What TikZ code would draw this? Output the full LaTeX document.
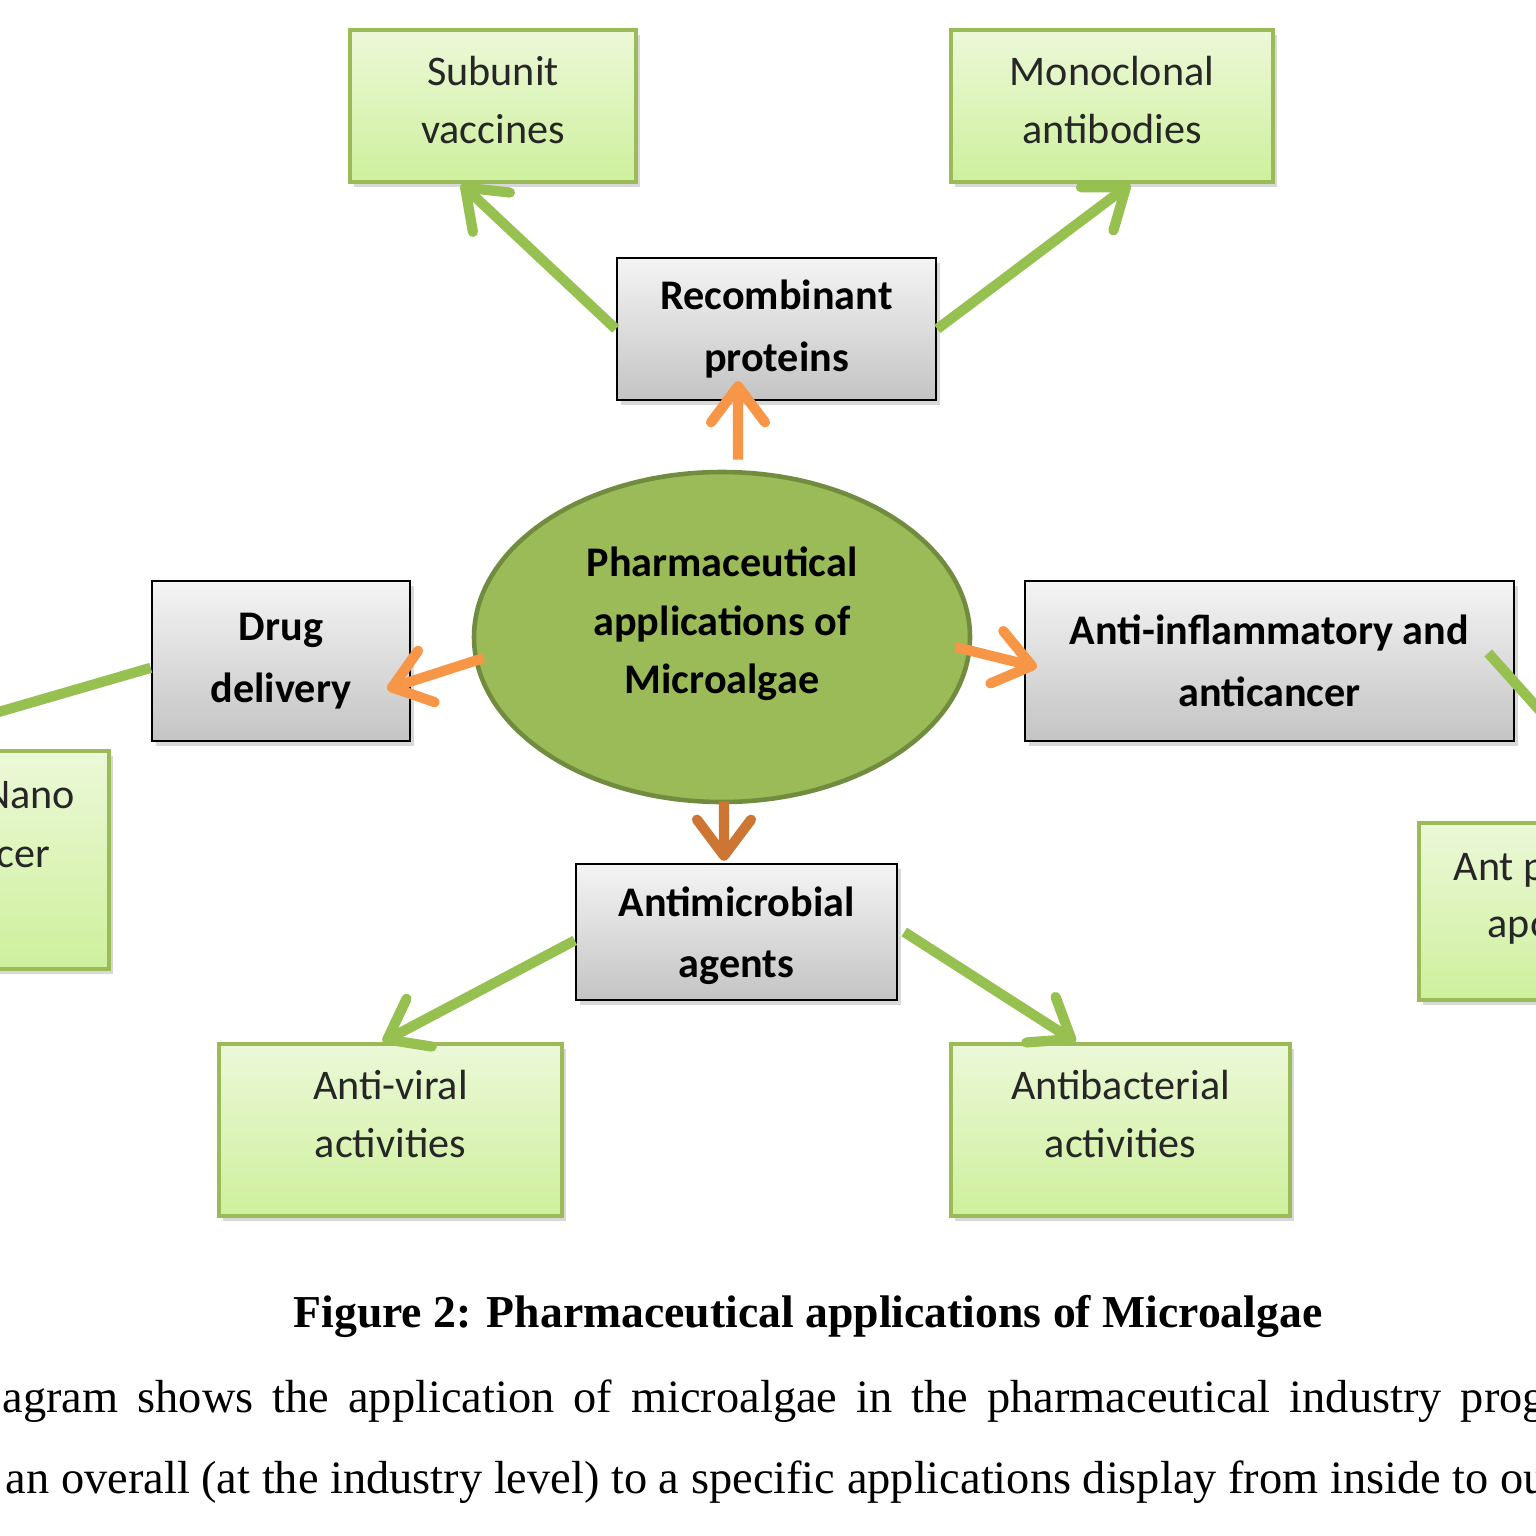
\documentclass[tikz,border=0pt]{standalone}
\usepackage{fontspec}
\setmainfont{Carlito}
\newfontfamily\capfont{Liberation Serif}
\usepackage{tikz}
\usetikzlibrary{arrows.meta,shapes.geometric,shadows,calc}

\definecolor{leafgreen}{RGB}{155,187,89}
\definecolor{leafdark}{RGB}{113,140,62}
\definecolor{arrowgreen}{RGB}{150,192,80}
\definecolor{boxtop}{RGB}{236,248,216}
\definecolor{boxbot}{RGB}{206,240,156}
\definecolor{greytop}{RGB}{244,244,244}
\definecolor{greybot}{RGB}{196,196,196}
\definecolor{arroworange}{RGB}{247,150,70}
\definecolor{arrowbrown}{RGB}{205,118,52}

\begin{document}
\begin{tikzpicture}[
  boxshadow/.style={drop shadow={shadow xshift=0.04cm, shadow yshift=-0.05cm, opacity=0.3}},
  greenbox/.style={rectangle, draw=leafgreen, line width=1.2pt, top color=boxtop, bottom color=boxbot,
    text=black!85, align=center, font=\fontsize{12}{16.5}\selectfont, boxshadow},
  greybox/.style={rectangle, draw=black, line width=0.7pt, top color=greytop, bottom color=greybot,
    align=center, font=\bfseries\fontsize{12}{17.5}\selectfont, boxshadow},
  cuttext/.style={text=black!85, font=\fontsize{12}{16.5}\selectfont, inner sep=0pt},
  gline/.style={draw=arrowgreen, line width=2.9pt, -{Straight Barb[round,length=3.6mm,width=5.4mm]}},
  oline/.style={draw=arroworange, line width=2.9pt, -{Straight Barb[round,length=3.6mm,width=5.4mm]}},
  bline/.style={draw=arrowbrown, line width=2.9pt, -{Straight Barb[round,length=3.6mm,width=5.4mm]}},
  bodytext/.style={font=\capfont\fontsize{13.2}{15}\selectfont, anchor=base west, inner sep=0pt},
]
  \useasboundingbox (0,0) rectangle (15.36,-15.36);
  \clip (0,0) rectangle (15.36,-15.36);
  \fill[white] (0,0) rectangle (15.36,-15.36);

  % centre
  \node[ellipse, draw=leafdark, line width=1.3pt, fill=leafgreen, minimum width=4.96cm, minimum height=3.30cm,
        align=center, text depth=0.33cm, font=\bfseries\fontsize{12}{16.6}\selectfont] (micro) at (7.22,-6.37)
        {Pharmaceutical\\applications of\\Microalgae};

  % first ring
  \node[greybox, minimum width=3.19cm, minimum height=1.42cm] (recomb) at (7.765,-3.29) {Recombinant\\proteins};
  \node[greybox, minimum width=2.58cm, minimum height=1.60cm] (drug) at (2.81,-6.61) {Drug\\delivery};
  \node[greybox, minimum width=4.89cm, minimum height=1.60cm] (antiinf) at (12.695,-6.61) {Anti-inflammatory and\\anticancer};
  \node[greybox, minimum width=3.21cm, minimum height=1.36cm, text depth=0pt] (antimic) at (7.365,-9.32) {Antimicrobial\\agents};

  % outer ring
  \node[greenbox, minimum width=2.86cm, minimum height=1.52cm, text depth=0.12cm] (subunit) at (4.93,-1.06) {Subunit\\vaccines};
  \node[greenbox, minimum width=3.22cm, minimum height=1.52cm, text depth=0.12cm] (mono) at (11.12,-1.06) {Monoclonal\\antibodies};
  \node[greenbox, minimum width=3.43cm, minimum height=1.72cm, text depth=0.32cm] (antivir) at (3.905,-11.30) {Anti-viral\\activities};
  \node[greenbox, minimum width=3.39cm, minimum height=1.72cm, text depth=0.32cm] (antibac) at (11.205,-11.30) {Antibacterial\\activities};
  \node[greenbox, minimum width=3.00cm, minimum height=2.18cm] (nanobox) at (-0.41,-8.60) {};
  \node[greenbox, minimum width=3.00cm, minimum height=1.77cm] (antpbox) at (15.69,-9.115) {};
  \node[cuttext, anchor=base] (nanotxt) at (0.29,-8.08) {Nano};
  \node[cuttext, anchor=base] (certxt) at (0.23,-8.67) {cer};
  \node[cuttext, anchor=base west] (anttxt) at (14.53,-8.80) {Ant p};
  \node[cuttext, anchor=base west] (apotxt) at (14.87,-9.37) {apo};

  \coordinate (nanoend) at (-0.60,-7.29);
  \coordinate (antpend) at (16.20,-8.00);

  % connectors
  \draw[oline] ($(micro.north)+(0.16,0.10)$) -- ($(recomb.south)+(-0.385,0.20)$);
  \draw[oline] ($(micro.west)+(0.12,-0.21)$) -- ($(drug.east)+(-0.24,-0.28)$);
  \draw[oline] ($(micro.east)+(-0.17,-0.10)$) -- ($(antiinf.west)+(0.13,-0.06)$);
  \draw[bline] ($(micro.south)+(0.02,0.03)$) -- ($(antimic.north)+(-0.125,0.02)$);
  \draw[gline] (recomb.west) -- (subunit.248);
  \draw[gline] (recomb.east) -- (mono.283);
  \draw[gline] (drug.183) -- (nanoend);
  \draw[gline] ($(antiinf.east)+(-0.27,0.08)$) -- (antpend);
  \draw[gline] (antimic.183) -- (antivir.95);
  \draw[gline] ($(antimic.east)+(0.06,0)$) -- (antibac.117);

  % caption and text below
  \node[font=\capfont\bfseries\fontsize{13}{15}\selectfont, anchor=base] (figcap) at (8.08,-13.27)
        {Figure 2: Pharmaceutical applications of Microalgae};
  \node[bodytext] (textone) at (0.02,-14.12)
        {\makebox[15.43cm][s]{agram shows the application of microalgae in the pharmaceutical industry prog}};
  \node[bodytext] (texttwo) at (0.05,-14.93)
        {an overall (at the industry level) to a specific applications display from inside to ou};
\end{tikzpicture}
\end{document}
